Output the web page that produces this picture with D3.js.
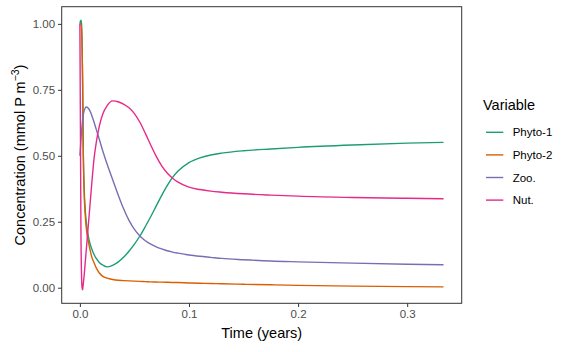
<!DOCTYPE html>
<html>
<head>
<meta charset="utf-8">
<script src="https://cdn.jsdelivr.net/npm/d3@7/dist/d3.min.js"></script>
<style>
  html, body { margin: 0; padding: 0; background: #fff; }
  svg text { font-family: "Liberation Sans", Arial, Helvetica, sans-serif; }
</style>
</head>
<body>
<svg id="chart" width="569" height="352"></svg>
<script>
// ---- data ----
const times = [0, 0.0005, 0.001, 0.0015, 0.002, 0.0025, 0.003,
  0.004, 0.005, 0.006, 0.0075, 0.009,
  0.011, 0.013, 0.015, 0.018, 0.021,
  0.025, 0.03, 0.035, 0.04, 0.045,
  0.05, 0.055, 0.06, 0.065, 0.07,
  0.075, 0.08, 0.085, 0.09, 0.1,
  0.11, 0.12, 0.13, 0.15, 0.175,
  0.2, 0.25, 0.3, 0.3333];

const phyto1 = [1.0, 1.01, 1.014, 1.0, 0.93, 0.79, 0.56,
  0.37, 0.29, 0.243, 0.2, 0.172,
  0.146, 0.126, 0.111, 0.095, 0.086,
  0.079, 0.085, 0.097, 0.115, 0.138,
  0.165, 0.196, 0.232, 0.27, 0.31,
  0.35, 0.387, 0.418, 0.442, 0.474,
  0.492, 0.503, 0.51, 0.519, 0.526,
  0.532, 0.541, 0.548, 0.551];

const phyto2 = [1.0, 1.0, 1.0, 0.98, 0.92, 0.78, 0.55,
  0.35, 0.27, 0.22, 0.18, 0.15,
  0.115, 0.095, 0.075, 0.055, 0.043,
  0.036, 0.031, 0.028, 0.027, 0.026,
  0.025, 0.024, 0.023, 0.022, 0.0215,
  0.021, 0.0205, 0.02, 0.0195, 0.018,
  0.017, 0.016, 0.015, 0.013, 0.011,
  0.009, 0.006, 0.004, 0.003];

const zoo = [0.5, 0.53, 0.56, 0.59, 0.615, 0.635, 0.652,
  0.672, 0.682, 0.685, 0.681, 0.672,
  0.652, 0.627, 0.6, 0.56, 0.518,
  0.468, 0.41, 0.353, 0.3, 0.255,
  0.221, 0.196, 0.178, 0.165, 0.155,
  0.147, 0.14, 0.135, 0.131, 0.124,
  0.119, 0.115, 0.111, 0.106, 0.101,
  0.098, 0.093, 0.089, 0.087];

const nut = [1.0, 0.6, 0.2, 0.05, 0.0, -0.008, 0.01,
  0.05, 0.1, 0.15, 0.225, 0.3,
  0.4, 0.49, 0.55, 0.615, 0.658,
  0.69, 0.708, 0.705, 0.696, 0.682,
  0.66, 0.627, 0.585, 0.54, 0.498,
  0.462, 0.435, 0.415, 0.4, 0.381,
  0.372, 0.366, 0.362, 0.356, 0.351,
  0.347, 0.342, 0.339, 0.337];

const seriesNames = ["Phyto-1", "Phyto-2", "Zoo.", "Nut."];
const seriesValues = [phyto1, phyto2, zoo, nut];
const seriesColors = ["#1B9E77", "#D95F02", "#7570B3", "#E7298A"];
const xTicks = [0, 0.1, 0.2, 0.3];
const yTicks = [0, 0.25, 0.5, 0.75, 1.0];

// ---- layout ----
const svg = d3.select("#chart");
const panel = { left: 61.7, right: 461.7, top: 6.7, bottom: 303.3 };

function expand(ext) {
  const d = (ext[1] - ext[0]) * 0.05;
  return [ext[0] - d, ext[1] + d];
}
const xExt = d3.extent(times);
const yExt = d3.extent(seriesValues.flat());

const x = d3.scaleLinear().domain(expand(xExt)).range([panel.left, panel.right]);
const y = d3.scaleLinear().domain(expand(yExt)).range([panel.bottom, panel.top]);

// clip
svg.append("defs").append("clipPath").attr("id", "clip")
  .append("rect")
  .attr("x", panel.left).attr("y", panel.top)
  .attr("width", panel.right - panel.left).attr("height", panel.bottom - panel.top);

// lines
const line = d3.line()
  .x(d => x(d[0]))
  .y(d => y(d[1]))
  .curve(d3.curveMonotoneX);

const g = svg.append("g").attr("clip-path", "url(#clip)");
seriesValues.forEach((vals, i) => {
  g.append("path")
    .datum(times.map((t, j) => [t, vals[j]]))
    .attr("fill", "none")
    .attr("stroke", seriesColors[i])
    .attr("stroke-width", 1.4)
    .attr("stroke-linejoin", "round")
    .attr("d", line);
});

// panel border
svg.append("rect")
  .attr("x", panel.left).attr("y", panel.top)
  .attr("width", panel.right - panel.left).attr("height", panel.bottom - panel.top)
  .attr("fill", "none").attr("stroke", "#333333").attr("stroke-width", 1);

// axes
const xAxis = d3.axisBottom(x).tickValues(xTicks).tickFormat(d3.format(".1f"))
  .tickSize(3.7).tickPadding(2.9);
const yAxis = d3.axisLeft(y).tickValues(yTicks).tickFormat(d3.format(".2f"))
  .tickSize(3.7).tickPadding(2.9);

const gx = svg.append("g").attr("transform", `translate(0,${panel.bottom})`).call(xAxis);
const gy = svg.append("g").attr("transform", `translate(${panel.left},0)`).call(yAxis);
[gx, gy].forEach(ax => {
  ax.select(".domain").remove();
  ax.selectAll(".tick line").attr("stroke", "#333333").attr("stroke-width", 1);
  ax.selectAll(".tick text").attr("fill", "#4D4D4D").style("font-size", "11.5px")
    .style("font-family", '"Liberation Sans", Arial, sans-serif');
});

// axis titles
svg.append("text")
  .attr("x", (panel.left + panel.right) / 2)
  .attr("y", 338)
  .attr("text-anchor", "middle")
  .style("font-size", "14.5px")
  .attr("fill", "#000")
  .text("Time (years)");

const yt = svg.append("text")
  .attr("transform", `translate(25,${(panel.top + panel.bottom) / 2}) rotate(-90)`)
  .attr("text-anchor", "middle")
  .style("font-size", "14.5px")
  .attr("fill", "#000");
yt.append("tspan").text("Concentration (mmol P m");
yt.append("tspan").attr("dy", -6).style("font-size", "10.5px").text("\u22123");
yt.append("tspan").attr("dy", 6).text(")");

// legend
const legend = svg.append("g");
legend.append("text")
  .attr("x", 483).attr("y", 110)
  .style("font-size", "14.5px")
  .attr("fill", "#000")
  .text("Variable");

seriesNames.forEach((name, i) => {
  const cy = 132.3 + i * 22.6;
  legend.append("line")
    .attr("x1", 486).attr("x2", 503.3)
    .attr("y1", cy).attr("y2", cy)
    .attr("stroke", seriesColors[i]).attr("stroke-width", 1.4);
  legend.append("text")
    .attr("x", 512.7).attr("y", cy + 4)
    .style("font-size", "11.5px")
    .attr("fill", "#000")
    .text(name);
});
</script>
</body>
</html>
